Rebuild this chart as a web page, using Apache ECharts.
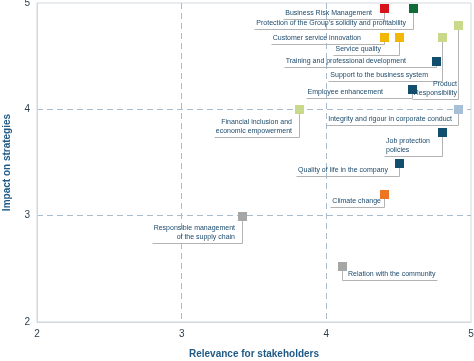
<!DOCTYPE html>
<html><head><meta charset="utf-8">
<script src="https://cdn.jsdelivr.net/npm/echarts@6/dist/echarts.min.js"></script>
<style>html,body{margin:0;padding:0;background:#fff}#c{width:474px;height:361px}</style>
</head><body><div id="c"></div>
<script>
const names = [
  'Business Risk Management',
  'Protection of the Group\u2019s solidity and profitability',
  'Customer service innovation',
  'Service quality',
  'Support to the business system',
  'Training and professional development',
  'Employee enhancement',
  'Product\nResponsibility',
  'Financial inclusion and\neconomic empowerment',
  'Integrity and rigour in corporate conduct',
  'Job protection\npolicies',
  'Quality of life in the company',
  'Climate change',
  'Responsible management\nof the supply chain',
  'Relation with the community'
];
const relevance = [4.40, 4.60, 4.40, 4.50, 4.80, 4.76, 4.59, 4.91, 3.81, 4.91, 4.80, 4.50, 4.40, 3.42, 4.11];
const impact    = [4.95, 4.95, 4.68, 4.68, 4.68, 4.45, 4.19, 4.79, 4.00, 4.00, 3.79, 3.50, 3.20, 3.00, 2.53];
const colors = ['#d7141c','#0f6b38','#f2b705','#f2b705','#c8d98a','#124e6e','#124e6e','#c8d98a','#c8d98a','#a8bfd8','#124e6e','#124e6e','#ee7623','#a6a6a6','#a6a6a6'];
// label layout (pixels relative to the point): text alignment, text anchor x offset, underline y offset
const labelAlign = ['right','right','right','right','right','right','right','right','right','right','left','right','right','right','left'];
const labelDx    = [-12, -7, -23, -18, -14, -30, -29, -1, -7, -6, -56, -11, -3, -7, 6];
const labelDy    = [11, 21, 7, 18, 44, 6, 9, 74, 28, 16, 24, 13, 13, 27, 14];
const xTicks = [2, 3, 4, 5];
const yTicks = [2, 3, 4, 5];

const FONT = '7px "Liberation Sans", Arial, sans-serif';
const mctx = document.createElement('canvas').getContext('2d');
mctx.font = FONT;
const TEXT_COLOR = '#1c4a6b';
const LEAD_COLOR = '#b3b3b3';

const chart = echarts.init(document.getElementById('c'), null, {renderer: 'canvas'});
const data = relevance.map((x, i) => [x, impact[i]]);

chart.setOption({
  animation: false,
  grid: {left: 37, right: 3, top: 3, bottom: 39, containLabel: false, outerBoundsMode: 'none',
         show: true, borderColor: '#d3d8dd', borderWidth: 1},
  xAxis: {
    type: 'value', min: xTicks[0], max: xTicks[xTicks.length - 1], interval: 1,
    axisLine: {show: true, lineStyle: {color: '#d3d8dd'}},
    axisTick: {show: false},
    axisLabel: {color: '#2b3f52', fontSize: 10, fontFamily: 'Liberation Sans', margin: 7},
    splitLine: {show: true, showMinLine: false, showMaxLine: false, lineStyle: {color: '#a9bccd', type: [6, 4], width: 1}},
    name: 'Relevance for stakeholders', nameLocation: 'middle', nameGap: 27,
    nameTextStyle: {color: '#1f5a86', fontWeight: 'bold', fontSize: 10, fontFamily: 'Liberation Sans'}
  },
  yAxis: {
    type: 'value', min: yTicks[0], max: yTicks[yTicks.length - 1], interval: 1,
    axisLine: {show: true, lineStyle: {color: '#d3d8dd'}},
    axisTick: {show: false},
    axisLabel: {color: '#2b3f52', fontSize: 10, fontFamily: 'Liberation Sans', margin: 7},
    splitLine: {show: true, showMinLine: false, showMaxLine: false, lineStyle: {color: '#a9bccd', type: [6, 4], width: 1}},
    name: 'Impact on strategies', nameLocation: 'middle', nameGap: 25, nameRotate: 90,
    nameTextStyle: {color: '#1f5a86', fontWeight: 'bold', fontSize: 10, fontFamily: 'Liberation Sans'}
  },
  series: [{
    type: 'custom',
    clip: false,
    data: data,
    renderItem: function (params, api) {
      const i = params.dataIndex;
      const p = api.coord([api.value(0), api.value(1)]);
      const px = Math.round(p[0]), py = Math.round(p[1]);
      const lines = names[i].split('\n');
      const w = Math.max.apply(null, lines.map(l => mctx.measureText(l).width));
      const uy = py + labelDy[i] + 0.5;
      const tx = px + labelDx[i];
      let x0, x1;
      if (labelAlign[i] === 'right') { x0 = tx - w; x1 = tx; } else { x0 = tx; x1 = tx + w; }
      const endX = (x0 < px) ? Math.round(x0) - 1.5 : Math.round(x1) + 1.5;
      return {
        type: 'group',
        children: [
          {type: 'polyline', shape: {points: [[px + 0.5, py], [px + 0.5, uy], [endX, uy]]},
           style: {stroke: LEAD_COLOR, lineWidth: 1, fill: null}},
          {type: 'rect', shape: {x: px - 4, y: py - 4, width: 9, height: 9},
           style: {fill: colors[i]}},
          {type: 'text', style: {text: names[i], x: tx, y: uy - 1.5, align: labelAlign[i],
            verticalAlign: 'bottom', font: FONT, fill: TEXT_COLOR, lineHeight: 9}}
        ]
      };
    }
  }]
});
</script>
</body></html>
